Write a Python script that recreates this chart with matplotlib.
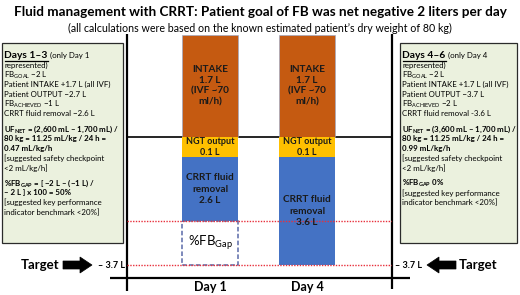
import numpy as np
import matplotlib
matplotlib.use("Agg")
import matplotlib.pyplot as plt
from matplotlib.patches import Rectangle, Polygon

# ---------------- data ----------------
days = ["Day 1", "Day 4"]
intake = [1.7, 1.7]            # L
ngt_output = [0.1, 0.1]        # L
crrt_removal = [2.6, 3.6]      # L
target_output = 3.7            # L (goal of total output)
intake_labels = ["INTAKE\n1.7 L\n(IVF ~70\nml/h)", "INTAKE\n1.7 L\n(IVF ~70\nml/h)"]
ngt_labels = ["NGT output\n0.1 L", "NGT output\n0.1 L"]
crrt_labels = ["CRRT fluid\nremoval\n2.6 L", "CRRT fluid\nremoval\n3.6 L"]
target_label = "– 3.7 L"

title = "Fluid management with CRRT: Patient goal of FB was net negative 2 liters per day"
subtitle = "(all calculations were based on the known estimated patient\u2019s dry weight of 80 kg)"

left_lines = [
    ("Days 1\u20133", " (only Day 1"),
    ("n", "represented)"),
    ("n", "FB$_{\\mathrm{GOAL}}$ \u22122 L"),
    ("n", "Patient INTAKE +1.7 L (all IVF)"),
    ("n", "Patient OUTPUT \u22122.7 L"),
    ("n", "FB$_{\\mathrm{ACHIEVED}}$ \u22121 L"),
    ("n", "CRRT fluid removal \u22122.6 L"),
    ("n", ""),
    ("b", "UF$_{\\mathbf{NET}}$ = (2,600 mL \u2013 1,700 mL) /"),
    ("b", "80 kg = 11.25 mL/kg / 24 h ="),
    ("b", "0.47 mL/kg/h"),
    ("n", "[suggested safety checkpoint"),
    ("n", "<2 mL/kg/h]"),
    ("n", ""),
    ("b", "%FB$_{\\mathbf{GAP}}$ = [ \u22122 L \u2013 (\u22121 L) /"),
    ("b", "\u2013 2 L ] x 100 = 50%"),
    ("n", "[suggested key performance"),
    ("n", "indicator benchmark <20%]"),
]
right_lines = [
    ("Days 4\u20136", " (only Day 4"),
    ("n", "represented)"),
    ("n", "FB$_{\\mathrm{GOAL}}$ \u22122 L"),
    ("n", "Patient INTAKE +1.7 L (all IVF)"),
    ("n", "Patient OUTPUT \u22123.7 L"),
    ("n", "FB$_{\\mathrm{ACHIEVED}}$ \u22122 L"),
    ("n", "CRRT fluid removal -3.6 L"),
    ("n", ""),
    ("b", "UF$_{\\mathbf{NET}}$ = (3,600 mL \u2013 1,700 mL) /"),
    ("b", "80 kg = 11.25 mL/kg / 24 h ="),
    ("b", "0.99 mL/kg/h"),
    ("n", "[suggested safety checkpoint"),
    ("n", "<2 mL/kg/h]"),
    ("n", ""),
    ("b", "%FB$_{\\mathbf{GAP}}$ 0%"),
    ("n", "[suggested key performance"),
    ("n", "indicator benchmark <20%]"),
]

# ---------------- style ----------------
FONT = "Lato"
plt.rcParams["font.family"] = [FONT, "DejaVu Sans"]
plt.rcParams["mathtext.fontset"] = "custom"
plt.rcParams["mathtext.rm"] = FONT
plt.rcParams["mathtext.bf"] = FONT + ":bold"
plt.rcParams["mathtext.it"] = FONT + ":italic"

ORANGE = "#c55a11"
YELLOW = "#ffc000"
BLUE = "#4472c4"
RED = "#e8303c"
GREEN_FILL = "#ebf1de"
GAP_EDGE = "#5a6aa8"

fig = plt.figure(figsize=(5.2, 2.95), dpi=100)
ov = fig.add_axes([0, 0, 1, 1])
ov.set_xlim(0, 520)
ov.set_ylim(295, 0)
ov.axis("off")
renderer = fig.canvas.get_renderer()


def width_px(t):
    return t.get_window_extent(renderer=renderer).width


def fit_size(s, target, weight="normal", base=8.0):
    t = ov.text(0, 0, s, fontsize=base, fontweight=weight)
    wpx = width_px(t)
    t.remove()
    return base * target / wpx


# non-linear (schematic) value scale: liters -> drawing offset
kL = np.array([-8.0, -3.7, -2.7, -0.1, 0.0, 1.7, 4.0])
kP = np.array([-316.0, -128.0, -84.0, -20.0, 0.0, 102.0, 240.0])
fwd = lambda v: np.interp(v, kL, kP)
inv = lambda p: np.interp(p, kP, kL)

ax = fig.add_axes([127 / 520, (295 - 278) / 295, 265 / 520, (278 - 35) / 295])
ax.set_yscale("function", functions=(fwd, inv))
ax.set_ylim(float(inv(-141.0)), 1.7)
ax.set_xlim(-0.856, 1.876)
ax.axis("off")
ax.patch.set_alpha(0)

x = np.arange(len(days))
w = 0.577
ngt_neg = -np.array(ngt_output)
crrt_neg = -np.array(crrt_removal)
ax.bar(x, intake, width=w, color=ORANGE, edgecolor="#8fa9d6", linewidth=0.4, zorder=3)
ax.bar(x, ngt_neg, width=w, color=YELLOW, zorder=3)
ax.bar(x, crrt_neg, bottom=ngt_neg, width=w, color=BLUE, zorder=3)

achieved = ngt_neg + crrt_neg
for i in range(len(days)):
    gap = -target_output - achieved[i]
    if abs(gap) > 1e-9:
        ax.bar(x[i], gap, bottom=achieved[i], width=w, fill=False,
               edgecolor=GAP_EDGE, linestyle=(0, (3, 1.5)), linewidth=1.1, zorder=3)
        ymid = float(inv((fwd(achieved[i]) + fwd(-target_output)) / 2))
        ax.text(x[i], ymid, "%FB$_{\\mathrm{Gap}}$", ha="center", va="center",
                fontsize=9.5, color="#000000", zorder=5)

ax.axhline(0, color="black", lw=1.2, zorder=2)
ax.axhline(achieved[0], color=RED, lw=1.0, ls=(0, (1, 1)), zorder=4)
ax.axhline(-target_output, color=RED, lw=1.0, ls=(0, (1, 1)), zorder=4)

TXT = "#1a1a1a"
for i in range(len(days)):
    ax.text(x[i], intake[i] / 2, intake_labels[i], ha="center", va="center",
            fontsize=7.2, fontweight="bold", color=TXT, linespacing=1.25, zorder=5)
    ax.text(x[i], ngt_neg[i] / 2, ngt_labels[i], ha="center", va="center",
            fontsize=6.5, fontweight="bold", color=TXT, linespacing=1.2, zorder=5)
    ymid = float(inv((fwd(ngt_neg[i]) + fwd(achieved[i])) / 2))
    ax.text(x[i], ymid, crrt_labels[i], ha="center", va="center",
            fontsize=7.2, fontweight="bold", color=TXT, linespacing=1.3, zorder=5)

for i, d in enumerate(days):
    ax.annotate(d, xy=(x[i], 0), xycoords=("data", "figure pixels"),
                xytext=(0, 295 - 287), textcoords=("offset pixels"),
                ha="center", va="center", fontsize=9, fontweight="bold")

# axes frame lines (pixel overlay)
ov.plot([127, 127], [34, 291], color="black", lw=1.6, solid_capstyle="butt")
ov.plot([392, 392], [34, 289], color="black", lw=1.6, solid_capstyle="butt")
ov.plot([110, 410], [278, 278], color="black", lw=1.6, solid_capstyle="butt")

# titles
ov.text(260, 12, title, ha="center", va="center",
        fontsize=fit_size(title, 496, "bold"), fontweight="bold")
ov.text(260, 28, subtitle, ha="center", va="center",
        fontsize=fit_size(subtitle, 383))

FS_N = fit_size("Patient INTAKE +1.7 L (all IVF)", 107)
FS_B = min(FS_N, fit_size("UF$_{\\mathbf{NET}}$ = (2,600 mL \u2013 1,700 mL) /", 116, "bold"))


def draw_box(x0, x1, lines):
    ov.add_patch(Rectangle((x0, 43), x1 - x0, 200, facecolor=GREEN_FILL,
                           edgecolor="#2b2b2b", lw=0.9, zorder=1))
    tx = x0 + 2.5
    y = 55
    for kind, s in lines:
        if kind not in ("n", "b"):
            t = ov.text(tx, y, kind, ha="left", va="center", fontsize=FS_N * 1.3,
                        fontweight="bold", zorder=2)
            bb = t.get_window_extent(renderer=renderer)
            xe = ov.transData.inverted().transform((bb.x1, 0))[0]
            ov.plot([tx, xe], [y + 6, y + 6], color="black", lw=0.9, zorder=2)
            ov.text(xe, y + 0.7, s, ha="left", va="center", fontsize=FS_N, zorder=2)
            y += 10.3
            continue
        if s:
            ov.text(tx, y, s, ha="left", va="center",
                    fontsize=FS_B if kind == "b" else FS_N,
                    fontweight="bold" if kind == "b" else "normal", zorder=2)
        y += 9.7 if s else 5.5


draw_box(2, 123, left_lines)
draw_box(400, 517, right_lines)


def block_arrow(xt, xb, yc, body=4, head=8, headlen=12):
    d = 1 if xt > xb else -1
    xh = xt - d * headlen
    pts = [(xb, yc - body), (xh, yc - body), (xh, yc - head), (xt, yc),
           (xh, yc + head), (xh, yc + body), (xb, yc + body)]
    ov.add_patch(Polygon(pts, closed=True, facecolor="black", edgecolor="black", lw=0.5))


block_arrow(92, 63, 265)
block_arrow(427, 456, 265)
ov.text(40, 265, "Target", ha="center", va="center", fontsize=9.5, fontweight="bold")
ov.text(478, 265, "Target", ha="center", va="center", fontsize=9.5, fontweight="bold")
ov.text(125, 265, target_label, ha="right", va="center", fontsize=6.5, fontweight="bold")
ov.text(395, 265, target_label, ha="left", va="center", fontsize=6.5, fontweight="bold")

fig.savefig("out.png", dpi=100)
